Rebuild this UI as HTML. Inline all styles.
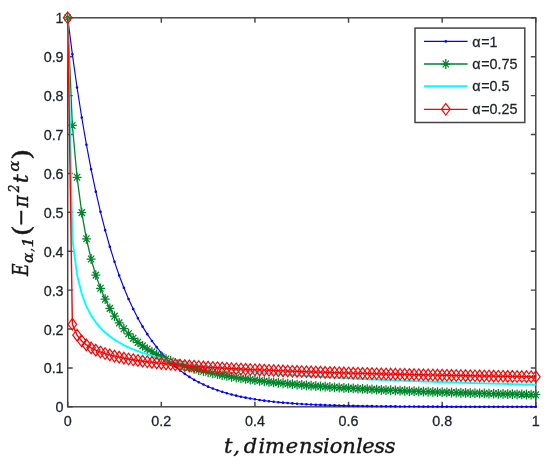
<!DOCTYPE html>
<html lang="en"><head><meta charset="utf-8"><title>Mittag-Leffler plot</title>
<style>html,body{margin:0;padding:0;background:#fff}svg{display:block}.tk{font-family:"Liberation Sans",Arial,sans-serif;font-size:15.2px;fill:#1c2028;stroke:#1c2028;stroke-width:0.28px}.lb{font-family:"DejaVu Serif","Liberation Serif",serif;font-style:italic;fill:#161616;stroke:#161616;stroke-width:0.38px}</style></head><body>
<svg width="550" height="466" viewBox="0 0 550 466">
<rect width="550" height="466" fill="#fff"/>
<g stroke="#444444" stroke-width="1.45" fill="none">
<rect x="67.7" y="17.8" width="468.10" height="389.00"/>
<path d="M67.70 406.8v-5M67.70 17.8v5M161.32 406.8v-5M161.32 17.8v5M254.94 406.8v-5M254.94 17.8v5M348.56 406.8v-5M348.56 17.8v5M442.18 406.8v-5M442.18 17.8v5M535.80 406.8v-5M535.80 17.8v5M67.7 406.80h5M535.8 406.80h-5M67.7 367.90h5M535.8 367.90h-5M67.7 329.00h5M535.8 329.00h-5M67.7 290.10h5M535.8 290.10h-5M67.7 251.20h5M535.8 251.20h-5M67.7 212.30h5M535.8 212.30h-5M67.7 173.40h5M535.8 173.40h-5M67.7 134.50h5M535.8 134.50h-5M67.7 95.60h5M535.8 95.60h-5M67.7 56.70h5M535.8 56.70h-5M67.7 17.80h5M535.8 17.80h-5"/>
</g>
<g>
<polyline points="67.70,17.80 72.38,54.36 77.06,87.48 81.74,117.49 86.42,144.68 91.11,169.32 95.79,191.64 100.47,211.86 105.15,230.18 109.83,246.78 114.51,261.82 119.19,275.44 123.87,287.79 128.55,298.97 133.23,309.11 137.91,318.29 142.60,326.61 147.28,334.14 151.96,340.97 156.64,347.16 161.32,352.76 166.00,357.84 170.68,362.44 175.36,366.61 180.04,370.39 184.72,373.81 189.41,376.91 194.09,379.72 198.77,382.27 203.45,384.57 208.13,386.66 212.81,388.55 217.49,390.27 222.17,391.82 226.85,393.23 231.54,394.50 236.22,395.66 240.90,396.71 245.58,397.66 250.26,398.52 254.94,399.29 259.62,400.00 264.30,400.64 268.98,401.22 273.66,401.74 278.34,402.22 283.03,402.65 287.71,403.04 292.39,403.39 297.07,403.71 301.75,404.00 306.43,404.27 311.11,404.50 315.79,404.72 320.47,404.91 325.15,405.09 329.84,405.25 334.52,405.40 339.20,405.53 343.88,405.65 348.56,405.76 353.24,405.86 357.92,405.94 362.60,406.02 367.28,406.10 371.96,406.16 376.65,406.22 381.33,406.28 386.01,406.33 390.69,406.37 395.37,406.41 400.05,406.45 404.73,406.48 409.41,406.51 414.09,406.54 418.77,406.56 423.46,406.59 428.14,406.61 432.82,406.62 437.50,406.64 442.18,406.66 446.86,406.67 451.54,406.68 456.22,406.69 460.90,406.70 465.58,406.71 470.27,406.72 474.95,406.73 479.63,406.73 484.31,406.74 488.99,406.75 493.67,406.75 498.35,406.76 503.03,406.76 507.71,406.76 512.39,406.77 517.08,406.77 521.76,406.77 526.44,406.78 531.12,406.78 535.80,406.78" fill="none" stroke="#0000ff" stroke-width="1.15" stroke-linejoin="round"/>
<path d="M67.70 17.80h0M72.38 54.36h0M77.06 87.48h0M81.74 117.49h0M86.42 144.68h0M91.11 169.32h0M95.79 191.64h0M100.47 211.86h0M105.15 230.18h0M109.83 246.78h0M114.51 261.82h0M119.19 275.44h0M123.87 287.79h0M128.55 298.97h0M133.23 309.11h0M137.91 318.29h0M142.60 326.61h0M147.28 334.14h0M151.96 340.97h0M156.64 347.16h0M161.32 352.76h0M166.00 357.84h0M170.68 362.44h0M175.36 366.61h0M180.04 370.39h0M184.72 373.81h0M189.41 376.91h0M194.09 379.72h0M198.77 382.27h0M203.45 384.57h0M208.13 386.66h0M212.81 388.55h0M217.49 390.27h0M222.17 391.82h0M226.85 393.23h0M231.54 394.50h0M236.22 395.66h0M240.90 396.71h0M245.58 397.66h0M250.26 398.52h0M254.94 399.29h0M259.62 400.00h0M264.30 400.64h0M268.98 401.22h0M273.66 401.74h0M278.34 402.22h0M283.03 402.65h0M287.71 403.04h0M292.39 403.39h0M297.07 403.71h0M301.75 404.00h0M306.43 404.27h0M311.11 404.50h0M315.79 404.72h0M320.47 404.91h0M325.15 405.09h0M329.84 405.25h0M334.52 405.40h0M339.20 405.53h0M343.88 405.65h0M348.56 405.76h0M353.24 405.86h0M357.92 405.94h0M362.60 406.02h0M367.28 406.10h0M371.96 406.16h0M376.65 406.22h0M381.33 406.28h0M386.01 406.33h0M390.69 406.37h0M395.37 406.41h0M400.05 406.45h0M404.73 406.48h0M409.41 406.51h0M414.09 406.54h0M418.77 406.56h0M423.46 406.59h0M428.14 406.61h0M432.82 406.62h0M437.50 406.64h0M442.18 406.66h0M446.86 406.67h0M451.54 406.68h0M456.22 406.69h0M460.90 406.70h0M465.58 406.71h0M470.27 406.72h0M474.95 406.73h0M479.63 406.73h0M484.31 406.74h0M488.99 406.75h0M493.67 406.75h0M498.35 406.76h0M503.03 406.76h0M507.71 406.76h0M512.39 406.77h0M517.08 406.77h0M521.76 406.77h0M526.44 406.78h0M531.12 406.78h0M535.80 406.78h0" stroke="#0000ff" stroke-width="2.6" stroke-linecap="round" fill="none"/>
<polyline points="67.70,17.80 72.38,125.48 77.06,177.29 81.74,212.62 86.42,238.77 91.11,259.00 95.79,275.14 100.47,288.28 105.15,299.19 109.83,308.37 114.51,316.18 119.19,322.89 123.87,328.73 128.55,333.83 133.23,338.32 137.91,342.31 142.60,345.86 147.28,349.05 151.96,351.92 156.64,354.51 161.32,356.88 166.00,359.03 170.68,361.00 175.36,362.81 180.04,364.48 184.72,366.03 189.41,367.46 194.09,368.78 198.77,370.02 203.45,371.18 208.13,372.26 212.81,373.27 217.49,374.22 222.17,375.11 226.85,375.96 231.54,376.75 236.22,377.51 240.90,378.22 245.58,378.90 250.26,379.54 254.94,380.15 259.62,380.73 264.30,381.29 268.98,381.81 273.66,382.32 278.34,382.80 283.03,383.27 287.71,383.71 292.39,384.13 297.07,384.54 301.75,384.93 306.43,385.31 311.11,385.67 315.79,386.02 320.47,386.36 325.15,386.69 329.84,387.00 334.52,387.30 339.20,387.59 343.88,387.88 348.56,388.15 353.24,388.41 357.92,388.67 362.60,388.92 367.28,389.16 371.96,389.39 376.65,389.62 381.33,389.84 386.01,390.06 390.69,390.26 395.37,390.47 400.05,390.66 404.73,390.85 409.41,391.04 414.09,391.22 418.77,391.40 423.46,391.57 428.14,391.74 432.82,391.90 437.50,392.06 442.18,392.22 446.86,392.37 451.54,392.52 456.22,392.66 460.90,392.81 465.58,392.94 470.27,393.08 474.95,393.21 479.63,393.34 484.31,393.47 488.99,393.59 493.67,393.72 498.35,393.83 503.03,393.95 507.71,394.07 512.39,394.18 517.08,394.29 521.76,394.39 526.44,394.50 531.12,394.60 535.80,394.71" fill="none" stroke="#00852a" stroke-width="1.3" stroke-linejoin="round"/>
<path d="M63.20 17.80h9M67.70 12.90v9.8M64.60 14.40l6.2 6.8M64.60 21.20l6.2 -6.8M67.88 125.48h9M72.38 120.58v9.8M69.28 122.08l6.2 6.8M69.28 128.88l6.2 -6.8M72.56 177.29h9M77.06 172.39v9.8M73.96 173.89l6.2 6.8M73.96 180.69l6.2 -6.8M77.24 212.62h9M81.74 207.72v9.8M78.64 209.22l6.2 6.8M78.64 216.02l6.2 -6.8M81.92 238.77h9M86.42 233.87v9.8M83.32 235.37l6.2 6.8M83.32 242.17l6.2 -6.8M86.61 259.00h9M91.11 254.10v9.8M88.01 255.60l6.2 6.8M88.01 262.40l6.2 -6.8M91.29 275.14h9M95.79 270.24v9.8M92.69 271.74l6.2 6.8M92.69 278.54l6.2 -6.8M95.97 288.28h9M100.47 283.38v9.8M97.37 284.88l6.2 6.8M97.37 291.68l6.2 -6.8M100.65 299.19h9M105.15 294.29v9.8M102.05 295.79l6.2 6.8M102.05 302.59l6.2 -6.8M105.33 308.37h9M109.83 303.47v9.8M106.73 304.97l6.2 6.8M106.73 311.77l6.2 -6.8M110.01 316.18h9M114.51 311.28v9.8M111.41 312.78l6.2 6.8M111.41 319.58l6.2 -6.8M114.69 322.89h9M119.19 317.99v9.8M116.09 319.49l6.2 6.8M116.09 326.29l6.2 -6.8M119.37 328.73h9M123.87 323.83v9.8M120.77 325.33l6.2 6.8M120.77 332.13l6.2 -6.8M124.05 333.83h9M128.55 328.93v9.8M125.45 330.43l6.2 6.8M125.45 337.23l6.2 -6.8M128.73 338.32h9M133.23 333.42v9.8M130.13 334.92l6.2 6.8M130.13 341.72l6.2 -6.8M133.41 342.31h9M137.91 337.41v9.8M134.81 338.91l6.2 6.8M134.81 345.71l6.2 -6.8M138.10 345.86h9M142.60 340.96v9.8M139.50 342.46l6.2 6.8M139.50 349.26l6.2 -6.8M142.78 349.05h9M147.28 344.15v9.8M144.18 345.65l6.2 6.8M144.18 352.45l6.2 -6.8M147.46 351.92h9M151.96 347.02v9.8M148.86 348.52l6.2 6.8M148.86 355.32l6.2 -6.8M152.14 354.51h9M156.64 349.61v9.8M153.54 351.11l6.2 6.8M153.54 357.91l6.2 -6.8M156.82 356.88h9M161.32 351.98v9.8M158.22 353.48l6.2 6.8M158.22 360.28l6.2 -6.8M161.50 359.03h9M166.00 354.13v9.8M162.90 355.63l6.2 6.8M162.90 362.43l6.2 -6.8M166.18 361.00h9M170.68 356.10v9.8M167.58 357.60l6.2 6.8M167.58 364.40l6.2 -6.8M170.86 362.81h9M175.36 357.91v9.8M172.26 359.41l6.2 6.8M172.26 366.21l6.2 -6.8M175.54 364.48h9M180.04 359.58v9.8M176.94 361.08l6.2 6.8M176.94 367.88l6.2 -6.8M180.22 366.03h9M184.72 361.13v9.8M181.62 362.63l6.2 6.8M181.62 369.43l6.2 -6.8M184.91 367.46h9M189.41 362.56v9.8M186.31 364.06l6.2 6.8M186.31 370.86l6.2 -6.8M189.59 368.78h9M194.09 363.88v9.8M190.99 365.38l6.2 6.8M190.99 372.18l6.2 -6.8M194.27 370.02h9M198.77 365.12v9.8M195.67 366.62l6.2 6.8M195.67 373.42l6.2 -6.8M198.95 371.18h9M203.45 366.28v9.8M200.35 367.78l6.2 6.8M200.35 374.58l6.2 -6.8M203.63 372.26h9M208.13 367.36v9.8M205.03 368.86l6.2 6.8M205.03 375.66l6.2 -6.8M208.31 373.27h9M212.81 368.37v9.8M209.71 369.87l6.2 6.8M209.71 376.67l6.2 -6.8M212.99 374.22h9M217.49 369.32v9.8M214.39 370.82l6.2 6.8M214.39 377.62l6.2 -6.8M217.67 375.11h9M222.17 370.21v9.8M219.07 371.71l6.2 6.8M219.07 378.51l6.2 -6.8M222.35 375.96h9M226.85 371.06v9.8M223.75 372.56l6.2 6.8M223.75 379.36l6.2 -6.8M227.04 376.75h9M231.54 371.85v9.8M228.44 373.35l6.2 6.8M228.44 380.15l6.2 -6.8M231.72 377.51h9M236.22 372.61v9.8M233.12 374.11l6.2 6.8M233.12 380.91l6.2 -6.8M236.40 378.22h9M240.90 373.32v9.8M237.80 374.82l6.2 6.8M237.80 381.62l6.2 -6.8M241.08 378.90h9M245.58 374.00v9.8M242.48 375.50l6.2 6.8M242.48 382.30l6.2 -6.8M245.76 379.54h9M250.26 374.64v9.8M247.16 376.14l6.2 6.8M247.16 382.94l6.2 -6.8M250.44 380.15h9M254.94 375.25v9.8M251.84 376.75l6.2 6.8M251.84 383.55l6.2 -6.8M255.12 380.73h9M259.62 375.83v9.8M256.52 377.33l6.2 6.8M256.52 384.13l6.2 -6.8M259.80 381.29h9M264.30 376.39v9.8M261.20 377.89l6.2 6.8M261.20 384.69l6.2 -6.8M264.48 381.81h9M268.98 376.91v9.8M265.88 378.41l6.2 6.8M265.88 385.21l6.2 -6.8M269.16 382.32h9M273.66 377.42v9.8M270.56 378.92l6.2 6.8M270.56 385.72l6.2 -6.8M273.84 382.80h9M278.34 377.90v9.8M275.24 379.40l6.2 6.8M275.24 386.20l6.2 -6.8M278.53 383.27h9M283.03 378.37v9.8M279.93 379.87l6.2 6.8M279.93 386.67l6.2 -6.8M283.21 383.71h9M287.71 378.81v9.8M284.61 380.31l6.2 6.8M284.61 387.11l6.2 -6.8M287.89 384.13h9M292.39 379.23v9.8M289.29 380.73l6.2 6.8M289.29 387.53l6.2 -6.8M292.57 384.54h9M297.07 379.64v9.8M293.97 381.14l6.2 6.8M293.97 387.94l6.2 -6.8M297.25 384.93h9M301.75 380.03v9.8M298.65 381.53l6.2 6.8M298.65 388.33l6.2 -6.8M301.93 385.31h9M306.43 380.41v9.8M303.33 381.91l6.2 6.8M303.33 388.71l6.2 -6.8M306.61 385.67h9M311.11 380.77v9.8M308.01 382.27l6.2 6.8M308.01 389.07l6.2 -6.8M311.29 386.02h9M315.79 381.12v9.8M312.69 382.62l6.2 6.8M312.69 389.42l6.2 -6.8M315.97 386.36h9M320.47 381.46v9.8M317.37 382.96l6.2 6.8M317.37 389.76l6.2 -6.8M320.65 386.69h9M325.15 381.79v9.8M322.05 383.29l6.2 6.8M322.05 390.09l6.2 -6.8M325.34 387.00h9M329.84 382.10v9.8M326.74 383.60l6.2 6.8M326.74 390.40l6.2 -6.8M330.02 387.30h9M334.52 382.40v9.8M331.42 383.90l6.2 6.8M331.42 390.70l6.2 -6.8M334.70 387.59h9M339.20 382.69v9.8M336.10 384.19l6.2 6.8M336.10 390.99l6.2 -6.8M339.38 387.88h9M343.88 382.98v9.8M340.78 384.48l6.2 6.8M340.78 391.28l6.2 -6.8M344.06 388.15h9M348.56 383.25v9.8M345.46 384.75l6.2 6.8M345.46 391.55l6.2 -6.8M348.74 388.41h9M353.24 383.51v9.8M350.14 385.01l6.2 6.8M350.14 391.81l6.2 -6.8M353.42 388.67h9M357.92 383.77v9.8M354.82 385.27l6.2 6.8M354.82 392.07l6.2 -6.8M358.10 388.92h9M362.60 384.02v9.8M359.50 385.52l6.2 6.8M359.50 392.32l6.2 -6.8M362.78 389.16h9M367.28 384.26v9.8M364.18 385.76l6.2 6.8M364.18 392.56l6.2 -6.8M367.46 389.39h9M371.96 384.49v9.8M368.86 385.99l6.2 6.8M368.86 392.79l6.2 -6.8M372.15 389.62h9M376.65 384.72v9.8M373.55 386.22l6.2 6.8M373.55 393.02l6.2 -6.8M376.83 389.84h9M381.33 384.94v9.8M378.23 386.44l6.2 6.8M378.23 393.24l6.2 -6.8M381.51 390.06h9M386.01 385.16v9.8M382.91 386.66l6.2 6.8M382.91 393.46l6.2 -6.8M386.19 390.26h9M390.69 385.36v9.8M387.59 386.86l6.2 6.8M387.59 393.66l6.2 -6.8M390.87 390.47h9M395.37 385.57v9.8M392.27 387.07l6.2 6.8M392.27 393.87l6.2 -6.8M395.55 390.66h9M400.05 385.76v9.8M396.95 387.26l6.2 6.8M396.95 394.06l6.2 -6.8M400.23 390.85h9M404.73 385.95v9.8M401.63 387.45l6.2 6.8M401.63 394.25l6.2 -6.8M404.91 391.04h9M409.41 386.14v9.8M406.31 387.64l6.2 6.8M406.31 394.44l6.2 -6.8M409.59 391.22h9M414.09 386.32v9.8M410.99 387.82l6.2 6.8M410.99 394.62l6.2 -6.8M414.27 391.40h9M418.77 386.50v9.8M415.67 388.00l6.2 6.8M415.67 394.80l6.2 -6.8M418.96 391.57h9M423.46 386.67v9.8M420.36 388.17l6.2 6.8M420.36 394.97l6.2 -6.8M423.64 391.74h9M428.14 386.84v9.8M425.04 388.34l6.2 6.8M425.04 395.14l6.2 -6.8M428.32 391.90h9M432.82 387.00v9.8M429.72 388.50l6.2 6.8M429.72 395.30l6.2 -6.8M433.00 392.06h9M437.50 387.16v9.8M434.40 388.66l6.2 6.8M434.40 395.46l6.2 -6.8M437.68 392.22h9M442.18 387.32v9.8M439.08 388.82l6.2 6.8M439.08 395.62l6.2 -6.8M442.36 392.37h9M446.86 387.47v9.8M443.76 388.97l6.2 6.8M443.76 395.77l6.2 -6.8M447.04 392.52h9M451.54 387.62v9.8M448.44 389.12l6.2 6.8M448.44 395.92l6.2 -6.8M451.72 392.66h9M456.22 387.76v9.8M453.12 389.26l6.2 6.8M453.12 396.06l6.2 -6.8M456.40 392.81h9M460.90 387.91v9.8M457.80 389.41l6.2 6.8M457.80 396.21l6.2 -6.8M461.08 392.94h9M465.58 388.04v9.8M462.48 389.54l6.2 6.8M462.48 396.34l6.2 -6.8M465.77 393.08h9M470.27 388.18v9.8M467.17 389.68l6.2 6.8M467.17 396.48l6.2 -6.8M470.45 393.21h9M474.95 388.31v9.8M471.85 389.81l6.2 6.8M471.85 396.61l6.2 -6.8M475.13 393.34h9M479.63 388.44v9.8M476.53 389.94l6.2 6.8M476.53 396.74l6.2 -6.8M479.81 393.47h9M484.31 388.57v9.8M481.21 390.07l6.2 6.8M481.21 396.87l6.2 -6.8M484.49 393.59h9M488.99 388.69v9.8M485.89 390.19l6.2 6.8M485.89 396.99l6.2 -6.8M489.17 393.72h9M493.67 388.82v9.8M490.57 390.32l6.2 6.8M490.57 397.12l6.2 -6.8M493.85 393.83h9M498.35 388.93v9.8M495.25 390.43l6.2 6.8M495.25 397.23l6.2 -6.8M498.53 393.95h9M503.03 389.05v9.8M499.93 390.55l6.2 6.8M499.93 397.35l6.2 -6.8M503.21 394.07h9M507.71 389.17v9.8M504.61 390.67l6.2 6.8M504.61 397.47l6.2 -6.8M507.89 394.18h9M512.39 389.28v9.8M509.29 390.78l6.2 6.8M509.29 397.58l6.2 -6.8M512.58 394.29h9M517.08 389.39v9.8M513.98 390.89l6.2 6.8M513.98 397.69l6.2 -6.8M517.26 394.39h9M521.76 389.49v9.8M518.66 390.99l6.2 6.8M518.66 397.79l6.2 -6.8M521.94 394.50h9M526.44 389.60v9.8M523.34 391.10l6.2 6.8M523.34 397.90l6.2 -6.8M526.62 394.60h9M531.12 389.70v9.8M528.02 391.20l6.2 6.8M528.02 398.00l6.2 -6.8M531.30 394.71h9M535.80 389.81v9.8M532.70 391.31l6.2 6.8M532.70 398.11l6.2 -6.8" stroke="#00852a" stroke-width="1.25" fill="none"/>
<polyline points="67.70,17.80 72.38,239.07 77.06,274.73 81.74,293.84 86.42,306.36 91.11,315.40 95.79,322.34 100.47,327.90 105.15,332.47 109.83,336.33 114.51,339.64 119.19,342.52 123.87,345.06 128.55,347.32 133.23,349.34 137.91,351.18 142.60,352.84 147.28,354.37 151.96,355.77 156.64,357.06 161.32,358.27 166.00,359.38 170.68,360.43 175.36,361.41 180.04,362.32 184.72,363.19 189.41,364.00 194.09,364.78 198.77,365.51 203.45,366.20 208.13,366.86 212.81,367.49 217.49,368.09 222.17,368.67 226.85,369.22 231.54,369.74 236.22,370.25 240.90,370.73 245.58,371.20 250.26,371.64 254.94,372.08 259.62,372.49 264.30,372.89 268.98,373.28 273.66,373.65 278.34,374.02 283.03,374.37 287.71,374.71 292.39,375.04 297.07,375.36 301.75,375.67 306.43,375.97 311.11,376.26 315.79,376.54 320.47,376.82 325.15,377.09 329.84,377.35 334.52,377.60 339.20,377.85 343.88,378.10 348.56,378.33 353.24,378.56 357.92,378.79 362.60,379.01 367.28,379.22 371.96,379.43 376.65,379.64 381.33,379.84 386.01,380.03 390.69,380.22 395.37,380.41 400.05,380.60 404.73,380.78 409.41,380.95 414.09,381.13 418.77,381.30 423.46,381.46 428.14,381.62 432.82,381.78 437.50,381.94 442.18,382.09 446.86,382.25 451.54,382.39 456.22,382.54 460.90,382.68 465.58,382.82 470.27,382.96 474.95,383.10 479.63,383.23 484.31,383.36 488.99,383.49 493.67,383.62 498.35,383.74 503.03,383.87 507.71,383.99 512.39,384.11 517.08,384.22 521.76,384.34 526.44,384.45 531.12,384.57 535.80,384.68" fill="none" stroke="#00ffff" stroke-width="1.9" stroke-linejoin="round"/>
<polyline points="67.70,17.80 72.38,324.27 77.06,335.18 81.74,341.03 86.42,344.93 91.11,347.83 95.79,350.11 100.47,351.98 105.15,353.56 109.83,354.92 114.51,356.11 119.19,357.17 123.87,358.12 128.55,358.98 133.23,359.76 137.91,360.48 142.60,361.14 147.28,361.76 151.96,362.33 156.64,362.87 161.32,363.37 166.00,363.85 170.68,364.30 175.36,364.72 180.04,365.12 184.72,365.51 189.41,365.87 194.09,366.22 198.77,366.56 203.45,366.88 208.13,367.18 212.81,367.48 217.49,367.76 222.17,368.03 226.85,368.30 231.54,368.55 236.22,368.79 240.90,369.03 245.58,369.26 250.26,369.48 254.94,369.70 259.62,369.91 264.30,370.11 268.98,370.31 273.66,370.50 278.34,370.69 283.03,370.87 287.71,371.05 292.39,371.22 297.07,371.39 301.75,371.55 306.43,371.71 311.11,371.87 315.79,372.02 320.47,372.17 325.15,372.32 329.84,372.46 334.52,372.60 339.20,372.74 343.88,372.87 348.56,373.00 353.24,373.13 357.92,373.26 362.60,373.38 367.28,373.50 371.96,373.62 376.65,373.74 381.33,373.85 386.01,373.97 390.69,374.08 395.37,374.18 400.05,374.29 404.73,374.40 409.41,374.50 414.09,374.60 418.77,374.70 423.46,374.80 428.14,374.90 432.82,374.99 437.50,375.09 442.18,375.18 446.86,375.27 451.54,375.36 456.22,375.45 460.90,375.54 465.58,375.62 470.27,375.71 474.95,375.79 479.63,375.87 484.31,375.95 488.99,376.03 493.67,376.11 498.35,376.19 503.03,376.27 507.71,376.34 512.39,376.42 517.08,376.49 521.76,376.56 526.44,376.64 531.12,376.71 535.80,376.78" fill="none" stroke="#ff0000" stroke-width="1.4" stroke-linejoin="round"/>
<path d="M67.70 12.00l4.3 5.8l-4.3 5.8l-4.3 -5.8zM72.38 318.47l4.3 5.8l-4.3 5.8l-4.3 -5.8zM77.06 329.38l4.3 5.8l-4.3 5.8l-4.3 -5.8zM81.74 335.23l4.3 5.8l-4.3 5.8l-4.3 -5.8zM86.42 339.13l4.3 5.8l-4.3 5.8l-4.3 -5.8zM91.11 342.03l4.3 5.8l-4.3 5.8l-4.3 -5.8zM95.79 344.31l4.3 5.8l-4.3 5.8l-4.3 -5.8zM100.47 346.18l4.3 5.8l-4.3 5.8l-4.3 -5.8zM105.15 347.76l4.3 5.8l-4.3 5.8l-4.3 -5.8zM109.83 349.12l4.3 5.8l-4.3 5.8l-4.3 -5.8zM114.51 350.31l4.3 5.8l-4.3 5.8l-4.3 -5.8zM119.19 351.37l4.3 5.8l-4.3 5.8l-4.3 -5.8zM123.87 352.32l4.3 5.8l-4.3 5.8l-4.3 -5.8zM128.55 353.18l4.3 5.8l-4.3 5.8l-4.3 -5.8zM133.23 353.96l4.3 5.8l-4.3 5.8l-4.3 -5.8zM137.91 354.68l4.3 5.8l-4.3 5.8l-4.3 -5.8zM142.60 355.34l4.3 5.8l-4.3 5.8l-4.3 -5.8zM147.28 355.96l4.3 5.8l-4.3 5.8l-4.3 -5.8zM151.96 356.53l4.3 5.8l-4.3 5.8l-4.3 -5.8zM156.64 357.07l4.3 5.8l-4.3 5.8l-4.3 -5.8zM161.32 357.57l4.3 5.8l-4.3 5.8l-4.3 -5.8zM166.00 358.05l4.3 5.8l-4.3 5.8l-4.3 -5.8zM170.68 358.50l4.3 5.8l-4.3 5.8l-4.3 -5.8zM175.36 358.92l4.3 5.8l-4.3 5.8l-4.3 -5.8zM180.04 359.32l4.3 5.8l-4.3 5.8l-4.3 -5.8zM184.72 359.71l4.3 5.8l-4.3 5.8l-4.3 -5.8zM189.41 360.07l4.3 5.8l-4.3 5.8l-4.3 -5.8zM194.09 360.42l4.3 5.8l-4.3 5.8l-4.3 -5.8zM198.77 360.76l4.3 5.8l-4.3 5.8l-4.3 -5.8zM203.45 361.08l4.3 5.8l-4.3 5.8l-4.3 -5.8zM208.13 361.38l4.3 5.8l-4.3 5.8l-4.3 -5.8zM212.81 361.68l4.3 5.8l-4.3 5.8l-4.3 -5.8zM217.49 361.96l4.3 5.8l-4.3 5.8l-4.3 -5.8zM222.17 362.23l4.3 5.8l-4.3 5.8l-4.3 -5.8zM226.85 362.50l4.3 5.8l-4.3 5.8l-4.3 -5.8zM231.54 362.75l4.3 5.8l-4.3 5.8l-4.3 -5.8zM236.22 362.99l4.3 5.8l-4.3 5.8l-4.3 -5.8zM240.90 363.23l4.3 5.8l-4.3 5.8l-4.3 -5.8zM245.58 363.46l4.3 5.8l-4.3 5.8l-4.3 -5.8zM250.26 363.68l4.3 5.8l-4.3 5.8l-4.3 -5.8zM254.94 363.90l4.3 5.8l-4.3 5.8l-4.3 -5.8zM259.62 364.11l4.3 5.8l-4.3 5.8l-4.3 -5.8zM264.30 364.31l4.3 5.8l-4.3 5.8l-4.3 -5.8zM268.98 364.51l4.3 5.8l-4.3 5.8l-4.3 -5.8zM273.66 364.70l4.3 5.8l-4.3 5.8l-4.3 -5.8zM278.34 364.89l4.3 5.8l-4.3 5.8l-4.3 -5.8zM283.03 365.07l4.3 5.8l-4.3 5.8l-4.3 -5.8zM287.71 365.25l4.3 5.8l-4.3 5.8l-4.3 -5.8zM292.39 365.42l4.3 5.8l-4.3 5.8l-4.3 -5.8zM297.07 365.59l4.3 5.8l-4.3 5.8l-4.3 -5.8zM301.75 365.75l4.3 5.8l-4.3 5.8l-4.3 -5.8zM306.43 365.91l4.3 5.8l-4.3 5.8l-4.3 -5.8zM311.11 366.07l4.3 5.8l-4.3 5.8l-4.3 -5.8zM315.79 366.22l4.3 5.8l-4.3 5.8l-4.3 -5.8zM320.47 366.37l4.3 5.8l-4.3 5.8l-4.3 -5.8zM325.15 366.52l4.3 5.8l-4.3 5.8l-4.3 -5.8zM329.84 366.66l4.3 5.8l-4.3 5.8l-4.3 -5.8zM334.52 366.80l4.3 5.8l-4.3 5.8l-4.3 -5.8zM339.20 366.94l4.3 5.8l-4.3 5.8l-4.3 -5.8zM343.88 367.07l4.3 5.8l-4.3 5.8l-4.3 -5.8zM348.56 367.20l4.3 5.8l-4.3 5.8l-4.3 -5.8zM353.24 367.33l4.3 5.8l-4.3 5.8l-4.3 -5.8zM357.92 367.46l4.3 5.8l-4.3 5.8l-4.3 -5.8zM362.60 367.58l4.3 5.8l-4.3 5.8l-4.3 -5.8zM367.28 367.70l4.3 5.8l-4.3 5.8l-4.3 -5.8zM371.96 367.82l4.3 5.8l-4.3 5.8l-4.3 -5.8zM376.65 367.94l4.3 5.8l-4.3 5.8l-4.3 -5.8zM381.33 368.05l4.3 5.8l-4.3 5.8l-4.3 -5.8zM386.01 368.17l4.3 5.8l-4.3 5.8l-4.3 -5.8zM390.69 368.28l4.3 5.8l-4.3 5.8l-4.3 -5.8zM395.37 368.38l4.3 5.8l-4.3 5.8l-4.3 -5.8zM400.05 368.49l4.3 5.8l-4.3 5.8l-4.3 -5.8zM404.73 368.60l4.3 5.8l-4.3 5.8l-4.3 -5.8zM409.41 368.70l4.3 5.8l-4.3 5.8l-4.3 -5.8zM414.09 368.80l4.3 5.8l-4.3 5.8l-4.3 -5.8zM418.77 368.90l4.3 5.8l-4.3 5.8l-4.3 -5.8zM423.46 369.00l4.3 5.8l-4.3 5.8l-4.3 -5.8zM428.14 369.10l4.3 5.8l-4.3 5.8l-4.3 -5.8zM432.82 369.19l4.3 5.8l-4.3 5.8l-4.3 -5.8zM437.50 369.29l4.3 5.8l-4.3 5.8l-4.3 -5.8zM442.18 369.38l4.3 5.8l-4.3 5.8l-4.3 -5.8zM446.86 369.47l4.3 5.8l-4.3 5.8l-4.3 -5.8zM451.54 369.56l4.3 5.8l-4.3 5.8l-4.3 -5.8zM456.22 369.65l4.3 5.8l-4.3 5.8l-4.3 -5.8zM460.90 369.74l4.3 5.8l-4.3 5.8l-4.3 -5.8zM465.58 369.82l4.3 5.8l-4.3 5.8l-4.3 -5.8zM470.27 369.91l4.3 5.8l-4.3 5.8l-4.3 -5.8zM474.95 369.99l4.3 5.8l-4.3 5.8l-4.3 -5.8zM479.63 370.07l4.3 5.8l-4.3 5.8l-4.3 -5.8zM484.31 370.15l4.3 5.8l-4.3 5.8l-4.3 -5.8zM488.99 370.23l4.3 5.8l-4.3 5.8l-4.3 -5.8zM493.67 370.31l4.3 5.8l-4.3 5.8l-4.3 -5.8zM498.35 370.39l4.3 5.8l-4.3 5.8l-4.3 -5.8zM503.03 370.47l4.3 5.8l-4.3 5.8l-4.3 -5.8zM507.71 370.54l4.3 5.8l-4.3 5.8l-4.3 -5.8zM512.39 370.62l4.3 5.8l-4.3 5.8l-4.3 -5.8zM517.08 370.69l4.3 5.8l-4.3 5.8l-4.3 -5.8zM521.76 370.76l4.3 5.8l-4.3 5.8l-4.3 -5.8zM526.44 370.84l4.3 5.8l-4.3 5.8l-4.3 -5.8zM531.12 370.91l4.3 5.8l-4.3 5.8l-4.3 -5.8zM535.80 370.98l4.3 5.8l-4.3 5.8l-4.3 -5.8z" stroke="#ff0000" stroke-width="1.2" fill="none"/>
</g>
<g class="tk">
<text transform="translate(67.70 425.5) scale(.945 1)" text-anchor="middle">0</text>
<text transform="translate(161.32 425.5) scale(.945 1)" text-anchor="middle">0.2</text>
<text transform="translate(254.94 425.5) scale(.945 1)" text-anchor="middle">0.4</text>
<text transform="translate(348.56 425.5) scale(.945 1)" text-anchor="middle">0.6</text>
<text transform="translate(442.18 425.5) scale(.945 1)" text-anchor="middle">0.8</text>
<text transform="translate(535.80 425.5) scale(.945 1)" text-anchor="middle">1</text>
<text transform="translate(63.6 412.30) scale(.945 1)" text-anchor="end">0</text>
<text transform="translate(63.6 373.40) scale(.945 1)" text-anchor="end">0.1</text>
<text transform="translate(63.6 334.50) scale(.945 1)" text-anchor="end">0.2</text>
<text transform="translate(63.6 295.60) scale(.945 1)" text-anchor="end">0.3</text>
<text transform="translate(63.6 256.70) scale(.945 1)" text-anchor="end">0.4</text>
<text transform="translate(63.6 217.80) scale(.945 1)" text-anchor="end">0.5</text>
<text transform="translate(63.6 178.90) scale(.945 1)" text-anchor="end">0.6</text>
<text transform="translate(63.6 140.00) scale(.945 1)" text-anchor="end">0.7</text>
<text transform="translate(63.6 101.10) scale(.945 1)" text-anchor="end">0.8</text>
<text transform="translate(63.6 62.20) scale(.945 1)" text-anchor="end">0.9</text>
<text transform="translate(63.6 23.30) scale(.945 1)" text-anchor="end">1</text>
</g>
<text class="lb" x="224.1 233.3 239.0 243.7 258.5 264.9 285.8 299.1 312.7 323.1 329.7 342.3 355.9 362.3 374.2 384.7" y="452.5" font-size="21">t, dimensionless</text>
<g class="lb" transform="translate(28.3 276.2) rotate(-90)">
<text><tspan x="0.17" y="0.00" font-size="22.2" textLength="12.57" lengthAdjust="spacingAndGlyphs">E</tspan><tspan x="13.28" y="5.10" font-size="14.8" textLength="10.41" lengthAdjust="spacingAndGlyphs">α</tspan><tspan x="24.47" y="5.10" font-size="14.8" textLength="3.61" lengthAdjust="spacingAndGlyphs">,</tspan><tspan x="28.81" y="5.10" font-size="14.8" textLength="10.83" lengthAdjust="spacingAndGlyphs">1</tspan><tspan x="39.83" y="1.63" font-size="23.8" textLength="11.05" lengthAdjust="spacingAndGlyphs" font-style="normal">(</tspan><tspan x="49.76" y="0.00" font-size="21.0" textLength="17.96" lengthAdjust="spacingAndGlyphs" font-style="normal">−</tspan><tspan x="68.59" y="0.00" font-size="21.0" textLength="12.28" lengthAdjust="spacingAndGlyphs">π</tspan><tspan x="83.70" y="-9.00" font-size="14.8" textLength="7.84" lengthAdjust="spacingAndGlyphs">2</tspan><tspan x="92.86" y="0.00" font-size="21.0" textLength="8.98" lengthAdjust="spacingAndGlyphs">t</tspan><tspan x="104.34" y="-9.00" font-size="14.8" textLength="11.18" lengthAdjust="spacingAndGlyphs">α</tspan><tspan x="116.09" y="1.63" font-size="23.8" textLength="11.22" lengthAdjust="spacingAndGlyphs" font-style="normal">)</tspan></text>
</g>
<rect x="415" y="28.1" width="109.8" height="94.4" fill="#fff" stroke="#444444" stroke-width="1.5"/>
<line x1="424" x2="467.6" y1="41.4" y2="41.4" stroke="#0000ff" stroke-width="1.3"/>
<path d="M445.80 41.40h0" stroke="#0000ff" stroke-width="2.6" stroke-linecap="round" fill="none"/>
<text class="tk" transform="translate(471.8 47.0) scale(.945 1)" x="0.4 9.95">α=1</text>
<line x1="424" x2="467.6" y1="64.0" y2="64.0" stroke="#00852a" stroke-width="1.3"/>
<path d="M441.30 64.00h9M445.80 59.10v9.8M442.70 60.60l6.2 6.8M442.70 67.40l6.2 -6.8" stroke="#00852a" stroke-width="1.25" fill="none"/>
<text class="tk" transform="translate(471.8 69.3) scale(.945 1)" x="0.4 9.95">α=0.75</text>
<line x1="424" x2="467.6" y1="86.2" y2="86.2" stroke="#00ffff" stroke-width="1.9"/>
<text class="tk" transform="translate(471.8 91.2) scale(.945 1)" x="0.4 9.95">α=0.5</text>
<line x1="424" x2="467.6" y1="109.3" y2="109.3" stroke="#ff0000" stroke-width="1.3"/>
<path d="M445.80 103.50l4.3 5.8l-4.3 5.8l-4.3 -5.8z" stroke="#ff0000" stroke-width="1.2" fill="none"/>
<text class="tk" transform="translate(471.8 113.8) scale(.945 1)" x="0.4 9.95">α=0.25</text>
</svg></body></html>
